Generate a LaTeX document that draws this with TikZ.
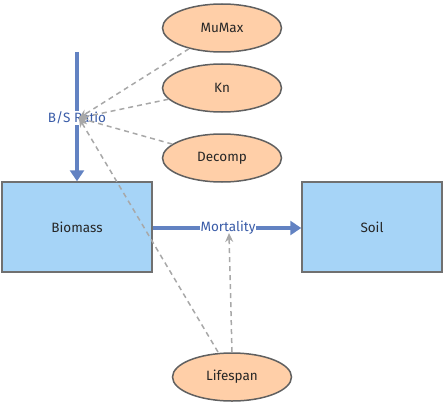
\documentclass[tikz,border=0pt]{standalone}
\usepackage{fontspec}
\setmainfont{Fira Sans}
\usetikzlibrary{shapes.geometric,arrows.meta}
\definecolor{boxfill}{HTML}{A6D4F7}
\definecolor{boxdraw}{HTML}{707070}
\definecolor{ellfill}{HTML}{FFCFA8}
\definecolor{elldraw}{HTML}{606060}
\definecolor{flowc}{HTML}{6282C2}
\definecolor{flowtext}{HTML}{3A5CA8}
\definecolor{linkc}{HTML}{A8A8A8}
\tikzset{
  stock/.style={draw=boxdraw, fill=boxfill, line width=1.5pt, minimum width=150pt, minimum height=90pt, inner sep=0pt, font=\fontsize{13.5}{15}\selectfont, text=black!85},
  param/.style={ellipse, draw=elldraw, fill=ellfill, line width=1.5pt, minimum width=119pt, minimum height=48pt, inner sep=0pt, font=\fontsize{13.5}{15}\selectfont, text=black!85},
  flow/.style={draw=flowc, line width=3.5pt, -{Triangle[length=11pt,width=14pt]}},
  flowlabel/.style={text=flowtext, font=\fontsize{13.5}{15}\selectfont, inner sep=1pt},
  link/.style={draw=linkc, line width=1.5pt, dash pattern=on 5pt off 4pt, -{Stealth[length=9pt,width=8pt]}},
}
\begin{document}
\begin{tikzpicture}[x=1pt,y=-1pt]
\useasboundingbox (0,0) rectangle (444,404);
\node[stock] (biomass) at (77,227) {Biomass};
\node[stock, minimum width=140pt] (soil) at (372,227) {Soil};
\node[param] (mumax) at (222,28) {MuMax};
\node[param] (kn) at (222,88) {Kn};
\node[param] (decomp) at (222,158) {Decomp};
\node[param] (lifespan) at (232,377) {Lifespan};
\coordinate (src) at (77,52);
\coordinate (bsv) at (79,118);
\coordinate (mv) at (228,228);
\draw[flow] (src) -- (biomass.north);
\draw[flow] (biomass.east |- mv) -- (soil.west |- mv);
\node[flowlabel, fill=white] (bslabel) at (77,118) {B/S Ratio};
\node[flowlabel, fill=white] (mlabel) at (mv) {Mortality};
\coordinate (ls1) at (218,352);
\coordinate (ls2) at (232,352);
\coordinate (mt) at (229,233);
\draw[link] (mumax) -- (bsv);
\draw[link] (kn) -- (bsv);
\draw[link] (decomp) -- (bsv);
\draw[link] (ls1) -- (bsv);
\draw[link] (ls2) -- (mt);
\end{tikzpicture}
\end{document}
